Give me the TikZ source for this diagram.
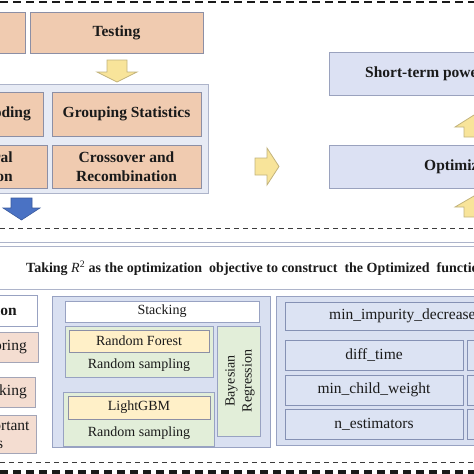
\documentclass[tikz,border=0pt]{standalone}
\usepackage{fontspec}
\setmainfont{Liberation Serif}
\definecolor{peachfill}{HTML}{F0CBB0}
\definecolor{peachline}{HTML}{8C8FA5}
\definecolor{peachlite}{HTML}{F4DDD1}
\definecolor{palefill}{HTML}{E7EBF5}
\definecolor{paleline}{HTML}{ADB4CA}
\definecolor{lavfill}{HTML}{DCE1F3}
\definecolor{lavline}{HTML}{9AA2BE}
\definecolor{bluefill}{HTML}{D9E0F1}
\definecolor{blueline}{HTML}{98A2C2}
\definecolor{parfill}{HTML}{DCE3F3}
\definecolor{parline}{HTML}{8591B4}
\definecolor{greenfill}{HTML}{E2EED9}
\definecolor{yelfill}{HTML}{FFF0C8}
\definecolor{arrowyel}{HTML}{F8E49A}
\definecolor{arrowyelline}{HTML}{C2B37C}
\definecolor{arrowblue}{HTML}{4A72C4}
\definecolor{inkcol}{HTML}{1A1A1A}
\newcommand{\topfont}{\fontsize{15.5}{19}\selectfont\bfseries}
\newcommand{\titlefont}{\fontsize{14}{16}\selectfont\bfseries}
\newcommand{\parfont}{\fontsize{15.5}{18}\selectfont}
\newcommand{\modfont}{\fontsize{14}{17}\selectfont}
\tikzset{
  peach/.style={draw=peachline, fill=peachfill, line width=1pt, inner sep=0pt, text=inkcol},
  peachlt/.style={draw=peachline!80, fill=peachlite, line width=1pt, inner sep=0pt},
  pale/.style={draw=paleline, fill=palefill, line width=1pt, inner sep=0pt},
  lav/.style={draw=lavline, fill=lavfill, line width=1pt, inner sep=0pt},
  holder/.style={draw=blueline, fill=bluefill, line width=1pt, inner sep=0pt},
  whitebox/.style={draw=blueline, fill=white, line width=1pt, inner sep=0pt, text=inkcol},
  greenbox/.style={draw=blueline, fill=greenfill, line width=1pt, inner sep=0pt},
  yelbox/.style={draw=peachline, fill=yelfill, line width=1pt, inner sep=0pt, text=inkcol, font=\modfont},
  parbox/.style={draw=parline, fill=parfill, line width=1pt, inner sep=0pt, text=inkcol, font=\parfont},
  txt/.style={inner sep=0pt, text=inkcol},
  yarrow/.style={fill=arrowyel, draw=arrowyelline, line width=0.8pt},
  barrow/.style={fill=arrowblue, draw=arrowblue!80!black, line width=0.6pt},
  septhick/.style={draw=inkcol, line width=2pt, dash pattern=on 8pt off 5pt},
  septhin/.style={draw=inkcol!85, line width=1pt, dash pattern=on 5pt off 4pt},
  sepblock/.style={draw=inkcol, line width=4pt, dash pattern=on 8pt off 5pt},
  rule/.style={draw=paleline, line width=1pt}
}
\begin{document}
\begin{tikzpicture}[x=1pt,y=-1pt]
\useasboundingbox (0,0) rectangle (474,474);
\clip (0,0) rectangle (474,474);

% separators
\draw[septhick] (0,2) -- (474,2);
\draw[septhin] (0,228) -- (474,228);
\draw[septhin] (0,462) -- (474,462);
\draw[sepblock] (0,472) -- (474,472);

% upper part
\node[peach, minimum width=190, minimum height=41] (train) at (-70,32.5) {};
\node[peach, font=\topfont, minimum width=173, minimum height=41] (test) at (116.5,32.5) {Testing};
\node[pale, minimum width=218, minimum height=109] (ga) at (99,138.5) {};
\node[peach, minimum width=149, minimum height=44] (enc) at (-31.5,114) {};
\node[txt, font=\topfont, anchor=east] (enct) at (31,114) {Encoding};
\node[peach, minimum width=153, minimum height=43] (sel) at (-29.5,166.5) {};
\node[txt, font=\topfont, anchor=east, align=right] (selt) at (13,167) {Natural\\Selection};
\node[peach, font=\topfont, minimum width=149, minimum height=44] (grp) at (126.5,114) {Grouping Statistics};
\node[peach, font=\topfont, align=center, minimum width=149, minimum height=43] (cro) at (126.5,166.5) {Crossover and\\Recombination};

\node[lav, minimum width=291, minimum height=43] (stp) at (474.5,73.5) {};
\node[txt, font=\topfont, anchor=west] (stpt) at (365,73.5) {Short-term power forecasting};
\node[lav, minimum width=291, minimum height=43] (opt) at (474.5,166.5) {};
\node[txt, font=\topfont, anchor=west] (optt) at (424,166.5) {Optimized model};

% block arrows
\draw[yarrow] (107,60) -- (127,60) -- (127,72) -- (137,72) -- (117,82) -- (97,72) -- (107,72) -- cycle;
\draw[barrow] (11,198) -- (32,198) -- (32,208) -- (40,208) -- (21.5,220) -- (3,208) -- (11,208) -- cycle;
\draw[yarrow] (255,158) -- (267,158) -- (267,148) -- (279,166.5) -- (267,185) -- (267,175) -- (255,175) -- cycle;
\draw[yarrow] (464,137) -- (464,127) -- (455,127) -- (474,115) -- (493,127) -- (484,127) -- (484,137) -- cycle;
\draw[yarrow] (464,217) -- (464,207) -- (455,207) -- (474,196) -- (493,207) -- (484,207) -- (484,217) -- cycle;

% lower part
\draw[rule] (0,242) -- (474,242);
\draw[rule] (0,246) -- (474,246);
\draw[rule] (0,289) -- (474,289);
\node[txt, font=\titlefont, anchor=base west] (title) at (26,272.5)
  {Taking {\mdseries\itshape R}\textsuperscript{\mdseries 2} as the optimization \ objective to construct \ the Optimized \ function};

\node[whitebox, minimum width=97, minimum height=31] (fsel) at (-11.5,310.5) {};
\node[txt, font=\topfont, anchor=east] (fselt) at (17,310.5) {Selection};
\node[peachlt, minimum width=98, minimum height=30] (scr) at (-11,347) {};
\node[txt, font=\parfont, anchor=east] (scrt) at (27,347) {Scoring};
\node[peachlt, minimum width=95, minimum height=30] (rnk) at (-12.5,392) {};
\node[txt, font=\parfont, anchor=east] (rnkt) at (27,392) {Ranking};
\node[peachlt, minimum width=96, minimum height=38] (imp) at (-12,434) {};
\node[txt, font=\parfont, align=center] (impt) at (-21.5,434) {Select important\\features};

\node[holder, minimum width=218, minimum height=151] (stk) at (161,371.5) {};
\node[whitebox, font=\modfont, minimum width=194, minimum height=21] (stkt) at (162,311.5) {Stacking};
\node[greenbox, minimum width=148, minimum height=51] (g1) at (139,351.5) {};
\node[yelbox, minimum width=140, minimum height=22] (rf) at (139,341) {Random Forest};
\node[txt, font=\modfont] (rs1) at (139,365) {Random sampling};
\node[greenbox, minimum width=151, minimum height=54] (g2) at (138.5,419) {};
\node[yelbox, minimum width=142, minimum height=23] (lgb) at (139,407.5) {LightGBM};
\node[txt, font=\modfont] (rs2) at (139,433) {Random sampling};
\node[greenbox, minimum width=43, minimum height=110] (bay) at (238.5,381) {};
\node[txt, font=\modfont, align=center, rotate=90] (bayt) at (240,381) {Bayesian\\Regression};

\node[holder, minimum width=344, minimum height=149] (par) at (448,370.5) {};
\node[parbox, minimum width=335, minimum height=28] (mid) at (452.5,316) {};
\node[txt, font=\parfont, anchor=west] (midt) at (329,316) {min\_impurity\_decrease};
\node[parbox, minimum width=178, minimum height=30] (dft) at (374,355) {diff\_time};
\node[parbox, minimum width=178, minimum height=30] (mcw) at (374,390) {min\_child\_weight};
\node[parbox, minimum width=178, minimum height=30] (nes) at (374,424) {n\_estimators};
\node[parbox, minimum width=93, minimum height=30] (dft2) at (513.5,355) {};
\node[parbox, minimum width=93, minimum height=30] (mcw2) at (513.5,390) {};
\node[parbox, minimum width=93, minimum height=30] (nes2) at (513.5,424) {};
\end{tikzpicture}
\end{document}
